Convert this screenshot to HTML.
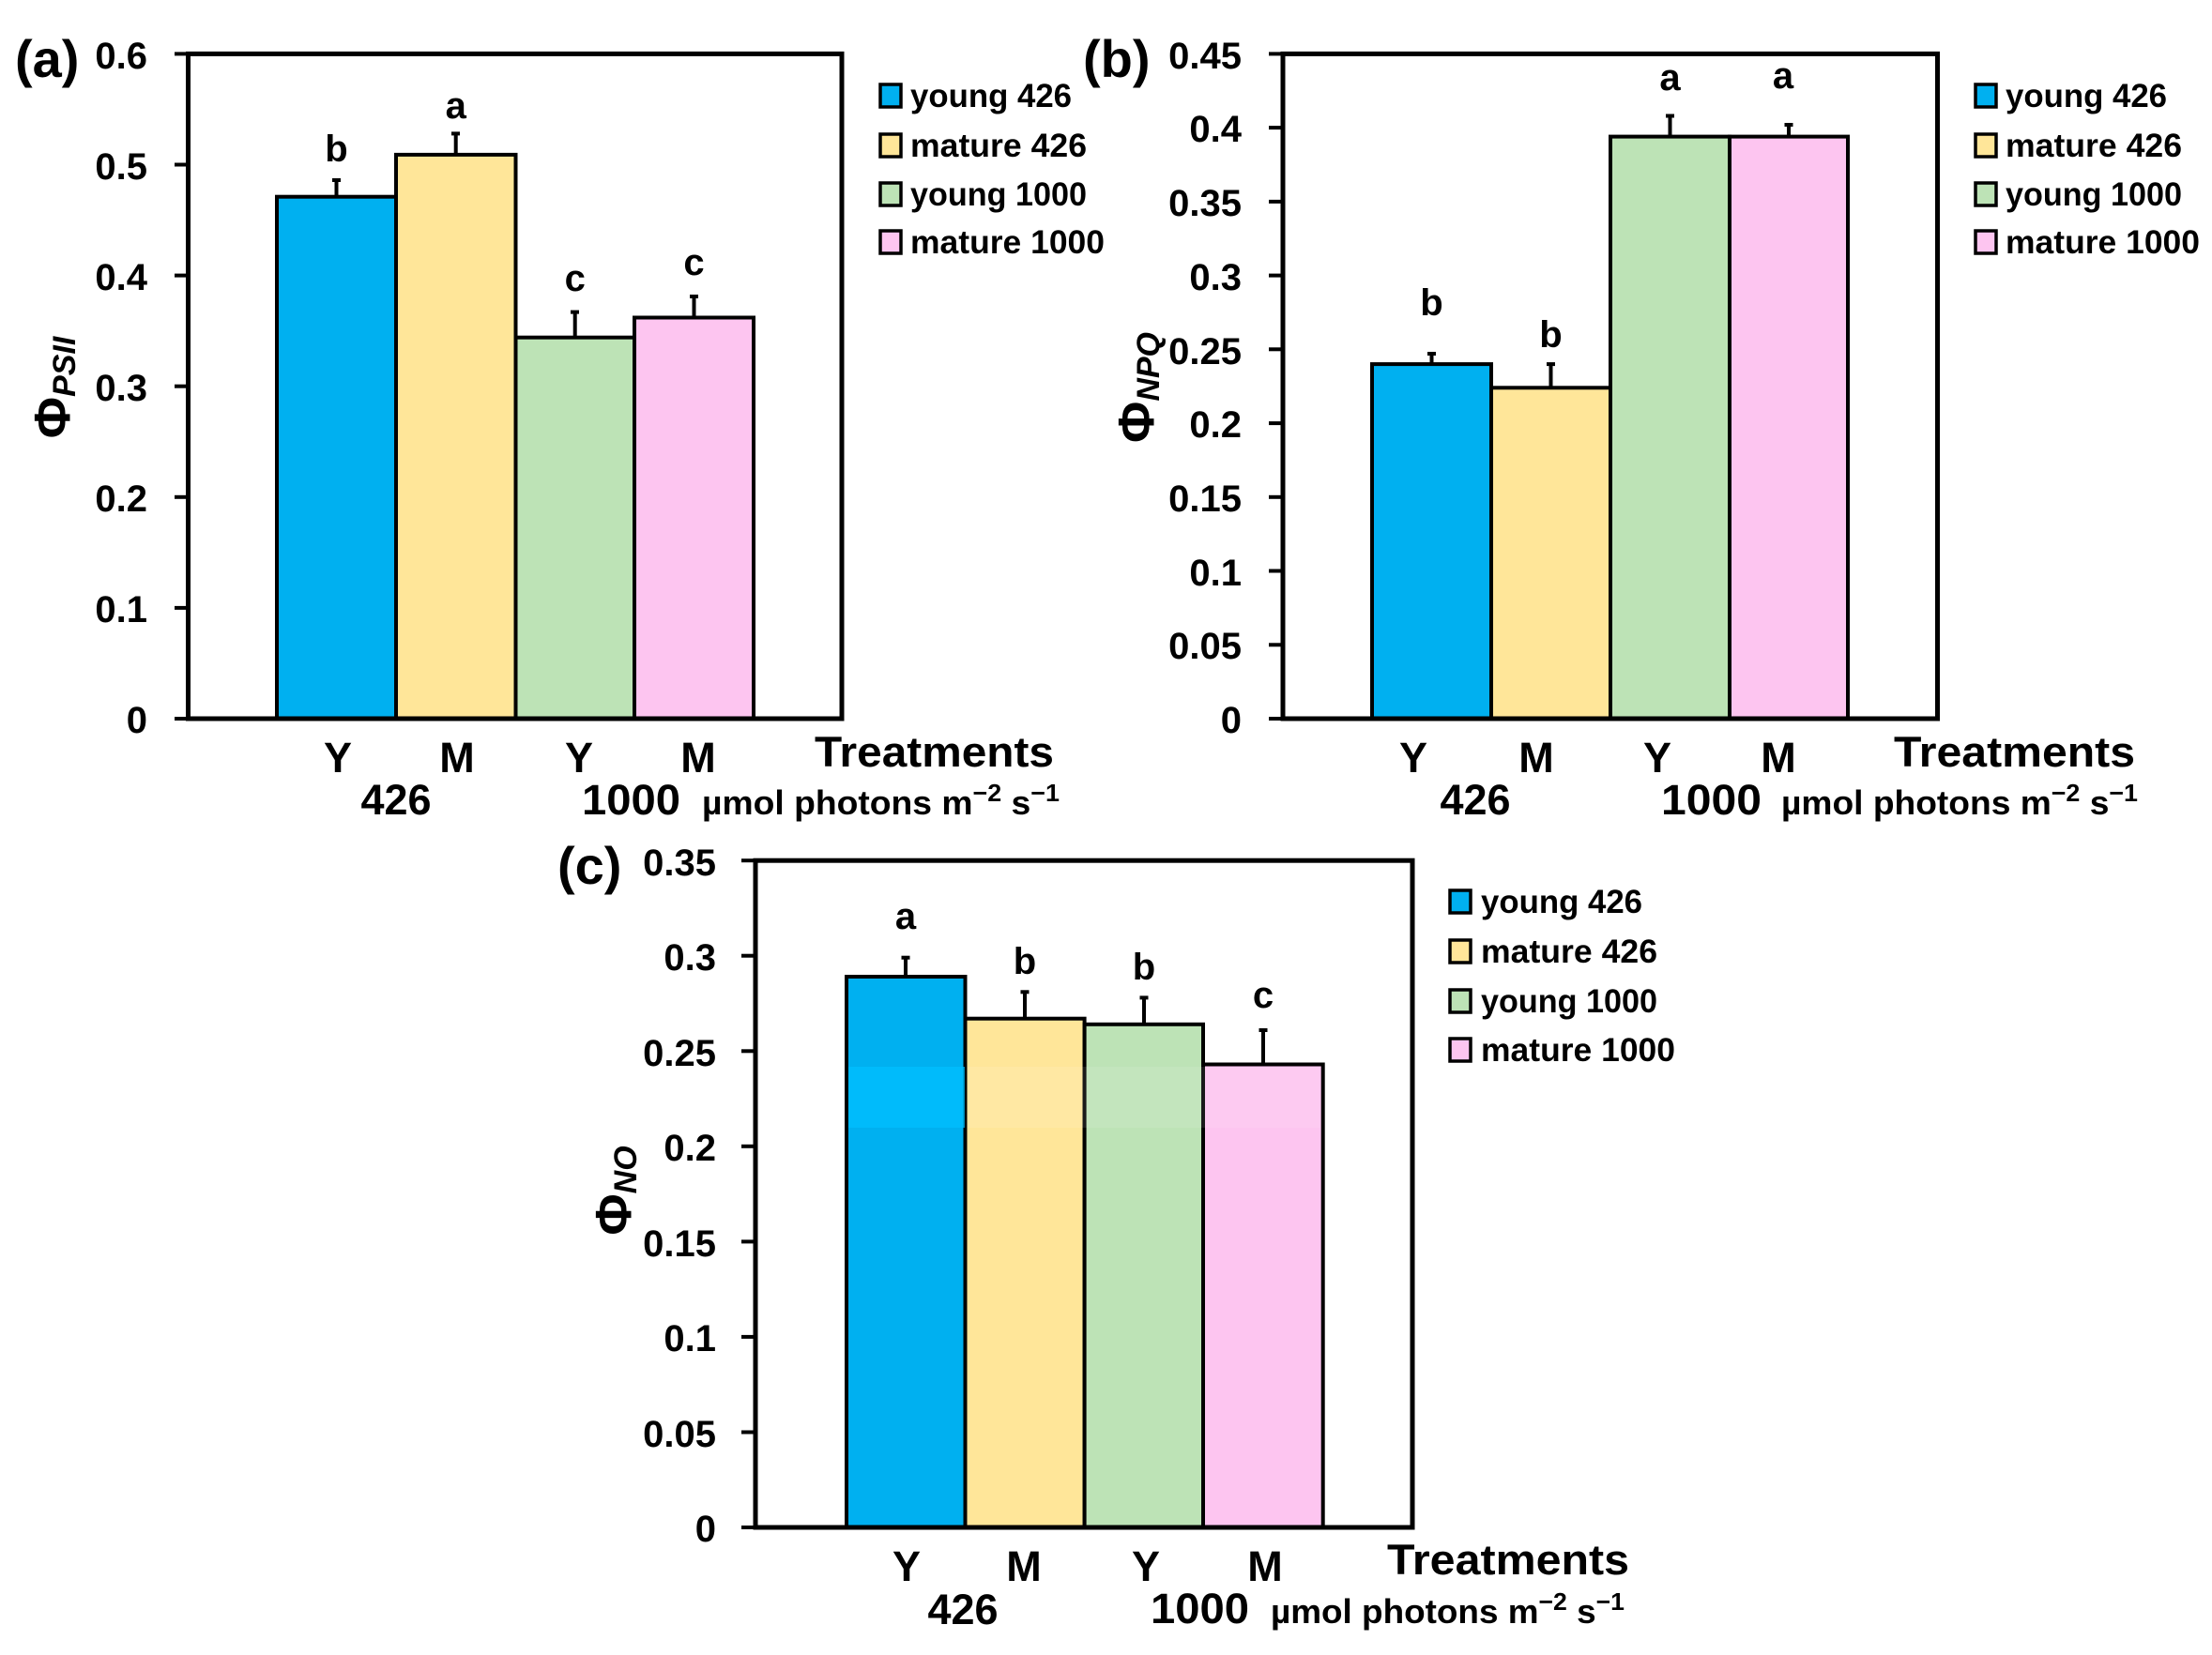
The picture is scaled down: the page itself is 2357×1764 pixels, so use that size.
<!DOCTYPE html>
<html><head><meta charset="utf-8"><style>
html,body{margin:0;padding:0;background:#fff;}
svg{display:block;font-family:"Liberation Sans",sans-serif;font-weight:bold;}
</style></head><body>
<svg width="2357" height="1764" viewBox="0 0 2357 1764" xmlns="http://www.w3.org/2000/svg">
<rect width="2357" height="1764" fill="#fff"/>

<!-- ===== Panel A ===== -->
<g>
<rect x="295" y="209.7" width="127" height="556.3" fill="#00B0F0" stroke="#000" stroke-width="4"/>
<rect x="422" y="164.9" width="127.5" height="601.1" fill="#FFE699" stroke="#000" stroke-width="4"/>
<rect x="549.5" y="359.7" width="126.5" height="406.3" fill="#BDE3B6" stroke="#000" stroke-width="4"/>
<rect x="676" y="338.5" width="127" height="427.5" fill="#FDC5F0" stroke="#000" stroke-width="4"/>
<g stroke="#000" stroke-width="4">
<line x1="358.5" y1="209.7" x2="358.5" y2="192"/><line x1="354" y1="192" x2="363" y2="192"/>
<line x1="485.7" y1="164.9" x2="485.7" y2="142.4"/><line x1="481" y1="142.4" x2="490" y2="142.4"/>
<line x1="612.7" y1="359.7" x2="612.7" y2="332.6"/><line x1="608" y1="332.6" x2="617" y2="332.6"/>
<line x1="739.5" y1="338.5" x2="739.5" y2="316"/><line x1="735" y1="316" x2="744" y2="316"/>
</g>
<rect x="200.5" y="57.4" width="696.5" height="708.6" fill="none" stroke="#000" stroke-width="5"/>
<g stroke="#000" stroke-width="4">
<line x1="186" y1="766" x2="200" y2="766"/><line x1="186" y1="647.9" x2="200" y2="647.9"/><line x1="186" y1="529.8" x2="200" y2="529.8"/><line x1="186" y1="411.7" x2="200" y2="411.7"/><line x1="186" y1="293.6" x2="200" y2="293.6"/><line x1="186" y1="175.5" x2="200" y2="175.5"/><line x1="186" y1="57.4" x2="200" y2="57.4"/>
</g>
<g font-size="40" text-anchor="end">
<text x="157" y="781">0</text><text x="157" y="663">0.1</text><text x="157" y="545">0.2</text><text x="157" y="427">0.3</text><text x="157" y="309">0.4</text><text x="157" y="191">0.5</text><text x="157" y="73">0.6</text>
</g>
<g font-size="40" text-anchor="middle">
<text x="358.5" y="172">b</text><text x="485.7" y="126">a</text><text x="612.7" y="310">c</text><text x="739.5" y="293">c</text>
</g>
<text x="16" y="82" font-size="56">(a)</text>
<text transform="translate(74,413) rotate(-90)" text-anchor="middle" font-size="54">Φ<tspan font-size="34" font-style="italic" dy="6">PSII</tspan></text>
<g font-size="45" text-anchor="middle">
<text x="360" y="823">Y</text><text x="487" y="823">M</text><text x="617" y="823">Y</text><text x="744" y="823">M</text>
<text x="422" y="868">426</text>
</g>
<text x="868" y="817" font-size="45" textLength="255" lengthAdjust="spacingAndGlyphs">Treatments</text>
<text x="620" y="868" font-size="45" textLength="105" lengthAdjust="spacingAndGlyphs">1000</text>
<text x="748" y="868" font-size="36" textLength="381" lengthAdjust="spacingAndGlyphs">µmol photons m<tspan font-size="26" dy="-14">−2</tspan><tspan dy="14"> s</tspan><tspan font-size="26" dy="-14">−1</tspan></text>
<g stroke="#000" stroke-width="3.5">
<rect x="938" y="90" width="22" height="24" fill="#00B0F0"/>
<rect x="938" y="143" width="22" height="24" fill="#FFE699"/>
<rect x="938" y="195" width="22" height="24" fill="#BDE3B6"/>
<rect x="938" y="246" width="22" height="24" fill="#FDC5F0"/>
</g>
<g font-size="35">
<text x="970" y="114" textLength="172" lengthAdjust="spacingAndGlyphs">young 426</text>
<text x="970" y="167" textLength="188" lengthAdjust="spacingAndGlyphs">mature 426</text>
<text x="970" y="219" textLength="188" lengthAdjust="spacingAndGlyphs">young 1000</text>
<text x="970" y="270" textLength="207" lengthAdjust="spacingAndGlyphs">mature 1000</text>
</g>
</g>

<!-- ===== Panel B ===== -->
<g>
<rect x="1462" y="388.1" width="127" height="377.9" fill="#00B0F0" stroke="#000" stroke-width="4"/>
<rect x="1589" y="413.3" width="127" height="352.7" fill="#FFE699" stroke="#000" stroke-width="4"/>
<rect x="1716" y="145.6" width="127" height="620.4" fill="#BDE3B6" stroke="#000" stroke-width="4"/>
<rect x="1843" y="145.6" width="126" height="620.4" fill="#FDC5F0" stroke="#000" stroke-width="4"/>
<g stroke="#000" stroke-width="4">
<line x1="1525.5" y1="388.1" x2="1525.5" y2="377"/><line x1="1521" y1="377" x2="1530" y2="377"/>
<line x1="1652.5" y1="413.3" x2="1652.5" y2="388.1"/><line x1="1648" y1="388.1" x2="1657" y2="388.1"/>
<line x1="1779.5" y1="145.6" x2="1779.5" y2="123.5"/><line x1="1775" y1="123.5" x2="1784" y2="123.5"/>
<line x1="1906" y1="145.6" x2="1906" y2="133"/><line x1="1901.5" y1="133" x2="1910.5" y2="133"/>
</g>
<rect x="1367" y="57.4" width="697.5" height="708.6" fill="none" stroke="#000" stroke-width="5"/>
<g stroke="#000" stroke-width="4">
<line x1="1352" y1="766" x2="1367" y2="766"/><line x1="1352" y1="687.3" x2="1367" y2="687.3"/><line x1="1352" y1="608.5" x2="1367" y2="608.5"/><line x1="1352" y1="529.8" x2="1367" y2="529.8"/><line x1="1352" y1="451.1" x2="1367" y2="451.1"/><line x1="1352" y1="372.3" x2="1367" y2="372.3"/><line x1="1352" y1="293.6" x2="1367" y2="293.6"/><line x1="1352" y1="214.9" x2="1367" y2="214.9"/><line x1="1352" y1="136.1" x2="1367" y2="136.1"/><line x1="1352" y1="57.4" x2="1367" y2="57.4"/>
</g>
<g font-size="40" text-anchor="end">
<text x="1323" y="781">0</text><text x="1323" y="702">0.05</text><text x="1323" y="624">0.1</text><text x="1323" y="545">0.15</text><text x="1323" y="466">0.2</text><text x="1323" y="388">0.25</text><text x="1323" y="309">0.3</text><text x="1323" y="230">0.35</text><text x="1323" y="151">0.4</text><text x="1323" y="73">0.45</text>
</g>
<g font-size="40" text-anchor="middle">
<text x="1525.5" y="336">b</text><text x="1652.5" y="370">b</text><text x="1779.5" y="96">a</text><text x="1900" y="94">a</text>
</g>
<text x="1154" y="82" font-size="56">(b)</text>
<text transform="translate(1229,413) rotate(-90)" text-anchor="middle" font-size="54">Φ<tspan font-size="34" font-style="italic" dy="6">NPQ</tspan></text>
<g font-size="45" text-anchor="middle">
<text x="1506" y="823">Y</text><text x="1637" y="823">M</text><text x="1766" y="823">Y</text><text x="1895" y="823">M</text>
<text x="1572" y="868">426</text>
</g>
<text x="2018" y="817" font-size="45" textLength="257" lengthAdjust="spacingAndGlyphs">Treatments</text>
<text x="1770" y="868" font-size="45" textLength="107" lengthAdjust="spacingAndGlyphs">1000</text>
<text x="1898" y="868" font-size="36" textLength="380" lengthAdjust="spacingAndGlyphs">µmol photons m<tspan font-size="26" dy="-14">−2</tspan><tspan dy="14"> s</tspan><tspan font-size="26" dy="-14">−1</tspan></text>
<g stroke="#000" stroke-width="3.5">
<rect x="2105" y="90" width="22" height="24" fill="#00B0F0"/>
<rect x="2105" y="143" width="22" height="24" fill="#FFE699"/>
<rect x="2105" y="195" width="22" height="24" fill="#BDE3B6"/>
<rect x="2105" y="246" width="22" height="24" fill="#FDC5F0"/>
</g>
<g font-size="35">
<text x="2137" y="114" textLength="172" lengthAdjust="spacingAndGlyphs">young 426</text>
<text x="2137" y="167" textLength="188" lengthAdjust="spacingAndGlyphs">mature 426</text>
<text x="2137" y="219" textLength="188" lengthAdjust="spacingAndGlyphs">young 1000</text>
<text x="2137" y="270" textLength="207" lengthAdjust="spacingAndGlyphs">mature 1000</text>
</g>
</g>

<!-- ===== Panel C ===== -->
<g>
<rect x="902" y="1041" width="126.5" height="587" fill="#00B0F0" stroke="#000" stroke-width="4"/>
<rect x="1028.5" y="1085.7" width="127.1" height="542.3" fill="#FFE699" stroke="#000" stroke-width="4"/>
<rect x="1155.6" y="1091.8" width="126.4" height="536.2" fill="#BDE3B6" stroke="#000" stroke-width="4"/>
<rect x="1282" y="1134.5" width="127.7" height="493.5" fill="#FDC5F0" stroke="#000" stroke-width="4"/>
<rect x="904" y="1137" width="124" height="65" fill="#00C0FF" opacity="0.7"/>
<rect x="1031" y="1137" width="376" height="65" fill="#fff" opacity="0.1"/>
<g stroke="#000" stroke-width="4">
<line x1="965" y1="1041" x2="965" y2="1020.7"/><line x1="960.5" y1="1020.7" x2="969.5" y2="1020.7"/>
<line x1="1092" y1="1085.7" x2="1092" y2="1057.3"/><line x1="1087.5" y1="1057.3" x2="1096.5" y2="1057.3"/>
<line x1="1219" y1="1091.8" x2="1219" y2="1063.4"/><line x1="1214.5" y1="1063.4" x2="1223.5" y2="1063.4"/>
<line x1="1346" y1="1134.5" x2="1346" y2="1098"/><line x1="1341.5" y1="1098" x2="1350.5" y2="1098"/>
</g>
<rect x="805" y="917.2" width="700" height="710.8" fill="none" stroke="#000" stroke-width="5"/>
<g stroke="#000" stroke-width="4">
<line x1="790" y1="1628" x2="805" y2="1628"/><line x1="790" y1="1526.5" x2="805" y2="1526.5"/><line x1="790" y1="1424.9" x2="805" y2="1424.9"/><line x1="790" y1="1323.4" x2="805" y2="1323.4"/><line x1="790" y1="1221.8" x2="805" y2="1221.8"/><line x1="790" y1="1120.3" x2="805" y2="1120.3"/><line x1="790" y1="1018.7" x2="805" y2="1018.7"/><line x1="790" y1="917.2" x2="805" y2="917.2"/>
</g>
<g font-size="40" text-anchor="end">
<text x="763" y="1643">0</text><text x="763" y="1542">0.05</text><text x="763" y="1440">0.1</text><text x="763" y="1339">0.15</text><text x="763" y="1237">0.2</text><text x="763" y="1136">0.25</text><text x="763" y="1034">0.3</text><text x="763" y="933">0.35</text>
</g>
<g font-size="40" text-anchor="middle">
<text x="965" y="990">a</text><text x="1092" y="1038">b</text><text x="1219" y="1044">b</text><text x="1346" y="1074">c</text>
</g>
<text x="594" y="942" font-size="56">(c)</text>
<text transform="translate(672,1269) rotate(-90)" text-anchor="middle" font-size="54">Φ<tspan font-size="34" font-style="italic" dy="6">NO</tspan></text>
<g font-size="45" text-anchor="middle">
<text x="966" y="1685">Y</text><text x="1091" y="1685">M</text><text x="1221" y="1685">Y</text><text x="1348" y="1685">M</text>
<text x="1026" y="1731">426</text>
</g>
<text x="1478" y="1678" font-size="45" textLength="258" lengthAdjust="spacingAndGlyphs">Treatments</text>
<text x="1226" y="1730" font-size="45" textLength="105" lengthAdjust="spacingAndGlyphs">1000</text>
<text x="1354" y="1730" font-size="36" textLength="377" lengthAdjust="spacingAndGlyphs">µmol photons m<tspan font-size="26" dy="-14">−2</tspan><tspan dy="14"> s</tspan><tspan font-size="26" dy="-14">−1</tspan></text>
<g stroke="#000" stroke-width="3.5">
<rect x="1545" y="949" width="22" height="24" fill="#00B0F0"/>
<rect x="1545" y="1002" width="22" height="24" fill="#FFE699"/>
<rect x="1545" y="1055" width="22" height="24" fill="#BDE3B6"/>
<rect x="1545" y="1107" width="22" height="24" fill="#FDC5F0"/>
</g>
<g font-size="35">
<text x="1578" y="973" textLength="172" lengthAdjust="spacingAndGlyphs">young 426</text>
<text x="1578" y="1026" textLength="188" lengthAdjust="spacingAndGlyphs">mature 426</text>
<text x="1578" y="1079" textLength="188" lengthAdjust="spacingAndGlyphs">young 1000</text>
<text x="1578" y="1131" textLength="207" lengthAdjust="spacingAndGlyphs">mature 1000</text>
</g>
</g>
</svg>
</body></html>
